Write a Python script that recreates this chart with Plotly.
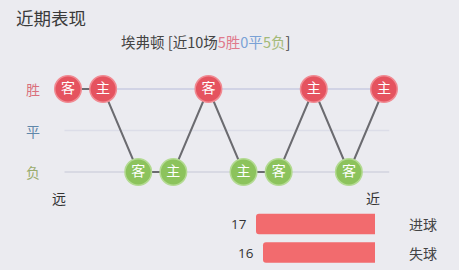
import plotly.graph_objects as go

# ---- data ----
results = ["胜", "胜", "负", "负", "胜", "负", "负", "胜", "负", "胜"]
venues = ["客", "主", "客", "主", "客", "主", "客", "主", "客", "主"]
levels = ["负", "平", "胜"]
level_colors = {"胜": "#d9707c", "平": "#5f87aa", "负": "#9aac6c"}
marker_colors = {"胜": "#e5535f", "负": "#8cc35c", "平": "#6f9fd6"}
goal_labels = ["进球", "失球"]
goal_values = [17, 16]
team = "埃弗顿"
counts = {r: results.count(r) for r in ["胜", "平", "负"]}

W, H = 459, 270
FONT = "Noto Sans CJK SC"

# pixel mapping for match axis
x0px, dx = 68, 35.11
y0px, dy = 172, 41.5
xr = [-x0px / dx, (W - x0px) / dx]
yr = [(y0px - H) / dy, y0px / dy]

# pixel mapping for goals axis
bar_right_px, px_per_goal = 375, 7.0
g0px, gdy = 224, 28.5
x2r = [bar_right_px / px_per_goal, (bar_right_px - W) / px_per_goal]
y2r = [(H - g0px) / gdy, -g0px / gdy]

n = len(results)
xs = list(range(n))
ys = [levels.index(r) for r in results]

fig = go.Figure()

# horizontal guide lines
guide_cols = {"胜": "#c9cbe2", "平": "#dcdde8", "负": "#d2d3df"}
for lv in levels:
    fig.add_shape(type="line", xref="x", yref="y",
                  x0=-0.1, x1=n - 1 + 0.15, y0=levels.index(lv), y1=levels.index(lv),
                  line=dict(color=guide_cols[lv], width=1.5), layer="below")

fig.add_trace(go.Scatter(
    x=xs, y=ys, mode="lines",
    line=dict(color="#6b6b70", width=2), hoverinfo="skip", showlegend=False,
    xaxis="x", yaxis="y"))

fig.add_trace(go.Scatter(
    x=xs, y=ys, mode="markers+text",
    text=venues, textposition="middle center",
    textfont=dict(family=FONT, size=14, color="white"),
    marker=dict(size=26.5, color=[marker_colors[r] for r in results],
                line=dict(color=["#f08a92" if r == "胜" else "#b3da92" for r in results], width=1.5)),
    hoverinfo="skip", showlegend=False, xaxis="x", yaxis="y"))

# level labels
for lv in levels:
    fig.add_annotation(x=xr[0], y=levels.index(lv), xref="x", yref="y",
                       text=lv, showarrow=False, xanchor="center", xshift=33,
                       font=dict(family=FONT, size=14, color=level_colors[lv]))

fig.add_annotation(x=0, y=0, xref="x", yref="y", yshift=-26, xshift=-9, text="远",
                   showarrow=False, font=dict(family=FONT, size=14, color="#333"))
fig.add_annotation(x=n - 1, y=0, xref="x", yref="y", yshift=-26, xshift=-11, text="近",
                   showarrow=False, font=dict(family=FONT, size=14, color="#333"))

# goals bars
fig.add_trace(go.Bar(
    x=goal_values, y=list(range(len(goal_values))), orientation="h",
    width=0.72, marker=dict(color="#f26b6e", line=dict(width=0)),
    hoverinfo="skip", showlegend=False, xaxis="x2", yaxis="y2"))

for i, (lab, v) in enumerate(zip(goal_labels, goal_values)):
    fig.add_annotation(x=v, y=i, xref="x2", yref="y2", text=str(v), showarrow=False,
                       xanchor="right", xshift=-7,
                       font=dict(family="Open Sans", size=13.5, color="#333"))
    fig.add_annotation(x=x2r[1], y=i, xref="x2", yref="y2", text=lab, showarrow=False,
                       xanchor="center", xshift=-36,
                       font=dict(family=FONT, size=14, color="#444"))

# titles
fig.add_annotation(x=14 / W, y=1 - 17 / H, xref="paper", yref="paper", xanchor="left",
                   yanchor="middle", text="近期表现", showarrow=False,
                   font=dict(family=FONT, size=17.5, color="#3a3a3a"))
sub = (f"{team} [近{n}场"
       f"<span style='color:#e07a8c'>{counts['胜']}胜</span>"
       f"<span style='color:#7aa2d6'>{counts['平']}平</span>"
       f"<span style='color:#a4ba78'>{counts['负']}负</span>]")
fig.add_annotation(x=119 / W, y=1 - 41 / H, xref="paper", yref="paper", xanchor="left",
                   yanchor="middle", text=sub, showarrow=False,
                   font=dict(family=FONT, size=14.5, color="#444"))

fig.update_layout(
    width=W, height=H, margin=dict(l=0, r=0, t=0, b=0),
    paper_bgcolor="#ebebf0", plot_bgcolor="rgba(0,0,0,0)",
    barcornerradius=3,
    xaxis=dict(range=xr, visible=False, domain=[0, 1], fixedrange=True),
    yaxis=dict(range=yr, visible=False, domain=[0, 1], fixedrange=True),
    xaxis2=dict(range=x2r, visible=False, domain=[0, 1], overlaying="x", anchor="y2"),
    yaxis2=dict(range=y2r, visible=False, domain=[0, 1], overlaying="y", anchor="x2"),
)

fig.write_html("out.html")
